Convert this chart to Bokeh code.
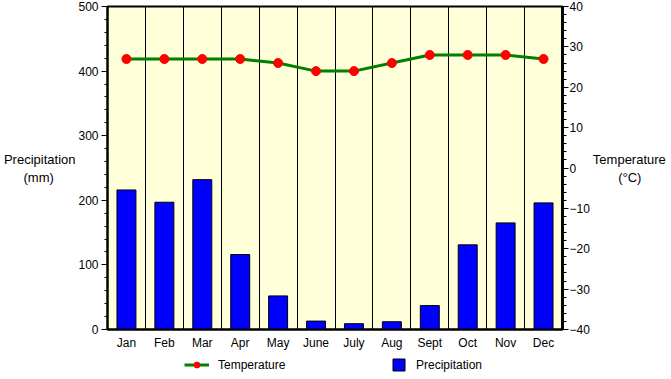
from bokeh.plotting import figure
from bokeh.layouts import column
from bokeh.models import (Range1d, LinearAxis, SingleIntervalTicker, FixedTicker,
                          Legend, LegendItem, ColumnDataSource)
from bokeh.embed import file_html
from bokeh.resources import INLINE

months = ["Jan", "Feb", "Mar", "Apr", "May", "June", "July", "Aug", "Sept", "Oct", "Nov", "Dec"]
precip = [216, 197, 232, 116, 52, 13, 9, 12, 37, 131, 165, 196]
temp = [27, 27, 27, 27, 26, 24, 24, 26, 28, 28, 28, 27]

xs = [i + 0.5 for i in range(len(months))]
src = ColumnDataSource(dict(x=xs, month=months, precip=precip, temp=temp))

FONT = "Liberation Sans"
NB = "\u00a0"

p = figure(width=671, height=352, x_range=Range1d(0, 12), y_range=Range1d(0, 500),
           output_backend="svg", toolbar_location=None,
           min_border_left=106, min_border_right=109, min_border_top=6, min_border_bottom=23)
p.background_fill_color = "#FFFFD9"
p.border_fill_color = "white"
p.outline_line_color = "black"
p.outline_line_width = 2

p.extra_y_ranges = {"temp": Range1d(-40, 40)}

# grid: vertical lines at category boundaries
p.ygrid.grid_line_color = None
p.xgrid.ticker = FixedTicker(ticks=list(range(1, 12)))
p.xgrid.grid_line_color = "black"
p.xgrid.grid_line_width = 1
p.xgrid.grid_line_alpha = 1

# x axis
xa = p.xaxis[0]
xa.ticker = FixedTicker(ticks=xs)
xa.major_label_overrides = {x: m for x, m in zip(xs, months)}
xa.major_tick_line_color = None
xa.minor_tick_line_color = None
xa.major_tick_out = 0
xa.major_tick_in = 0
xa.axis_line_width = 2
xa.major_label_text_font = FONT
xa.major_label_text_font_size = "12px"
xa.major_label_text_color = "black"
xa.major_label_standoff = 6

# left axis
ya = p.yaxis[0]
ya.ticker = SingleIntervalTicker(interval=100, num_minor_ticks=5)
ya.axis_line_width = 2
ya.major_tick_out = 6
ya.major_tick_in = 0
ya.minor_tick_out = 3
ya.minor_tick_in = 0
ya.major_label_standoff = 3
ya.major_label_text_font = FONT
ya.major_label_text_font_size = "12px"
ya.major_label_text_color = "black"
ya.axis_label = "Precipitation\n(mm)" + NB * 6
ya.axis_label_orientation = "horizontal"
ya.axis_label_standoff = 0
ya.axis_label_text_font = FONT
ya.axis_label_text_font_size = "13px"
ya.axis_label_text_font_style = "normal"
ya.axis_label_text_color = "black"

# right axis
ra = LinearAxis(y_range_name="temp", ticker=SingleIntervalTicker(interval=10, num_minor_ticks=5))
ra.axis_line_width = 3
ra.major_tick_out = 6
ra.major_tick_in = 0
ra.minor_tick_out = 4
ra.minor_tick_in = 0
ra.major_label_standoff = 1
ra.major_label_text_font = FONT
ra.major_label_text_font_size = "12px"
ra.major_label_text_color = "black"
ra.axis_label = "Temperature\n" + NB * 7 + "(°C)"
ra.axis_label_orientation = "horizontal"
ra.axis_label_standoff = 0
ra.axis_label_text_font = FONT
ra.axis_label_text_font_size = "13px"
ra.axis_label_text_font_style = "normal"
ra.axis_label_text_color = "black"
p.add_layout(ra, "right")

p.vbar(x="x", top="precip", bottom=0, width=0.5, source=src,
       fill_color="#0000FF", line_color="black", line_width=1)
p.line(x="x", y="temp", source=src, y_range_name="temp", line_color="#008000", line_width=3)
p.scatter(x="x", y="temp", source=src, y_range_name="temp", size=9,
          fill_color="#FF0000", line_color="#FF0000")

# legend strip below the chart (legend swatches only, no visible marks)
lg = figure(width=671, height=27, x_range=Range1d(0, 1), y_range=Range1d(0, 1),
            x_axis_type=None, y_axis_type=None, output_backend="svg", toolbar_location=None,
            min_border=0)
lg.outline_line_color = None
lg.grid.grid_line_color = None
lg.background_fill_color = "white"
nan = float("nan")
l1 = lg.line(x=[nan], y=[nan], line_color="#008000", line_width=3)
l2 = lg.scatter(x=[nan], y=[nan], size=9, fill_color="#FF0000", line_color="#FF0000")
l3 = lg.vbar(x=[nan], top=[nan], width=0.5, fill_color="#0000FF", line_color="black")

common = dict(orientation="horizontal", padding=0, margin=0,
              border_line_alpha=0, background_fill_alpha=0,
              label_text_font=FONT, label_text_font_size="12px", label_text_color="black")
leg1 = Legend(items=[LegendItem(label="Temperature", renderers=[l1, l2])],
              location=(77, 7), glyph_width=25, glyph_height=15, label_standoff=9, **common)
leg2 = Legend(items=[LegendItem(label="Precipitation", renderers=[l3])],
              location=(284, 7), glyph_width=15, glyph_height=15, label_standoff=10, **common)
lg.add_layout(leg1, "center")
lg.add_layout(leg2, "center")

open("out.html", "w").write(file_html(column(p, lg, spacing=0), INLINE))
